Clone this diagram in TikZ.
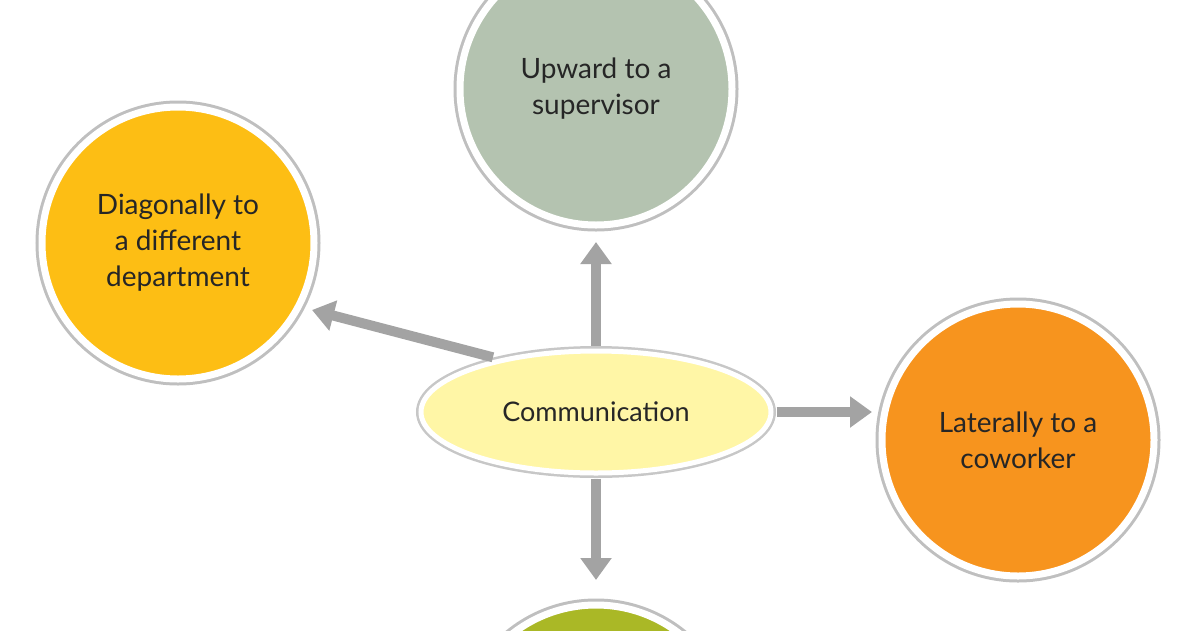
\documentclass[tikz,border=0pt]{standalone}
\usepackage{fontspec}
\setmainfont{Lato}
\usetikzlibrary{arrows.meta,shapes.geometric}
\definecolor{cgrey}{HTML}{B4C3B0}
\definecolor{cyel}{HTML}{FDBE14}
\definecolor{corg}{HTML}{F7941E}
\definecolor{cgrn}{HTML}{AAB826}
\definecolor{cell}{HTML}{FFF6A6}
\definecolor{carr}{HTML}{A3A3A3}
\tikzset{
 circ/.style={circle,minimum size=272pt,draw=white,line width=7pt,fill=#1,
   align=center,font=\fontsize{28}{36}\selectfont,text=black!85,
   preaction={draw=black!25,line width=13pt}},
 conn/.style={draw=carr,line width=10pt,-{Triangle[length=22pt,width=30pt]}}
}
\begin{document}
\begin{tikzpicture}[x=1pt,y=-1pt]
\useasboundingbox (0,0) rectangle (1200,630);
\node[circ=cgrey] (up) at (596,89) {Upward to a\\supervisor};
\node[circ=cyel] (dg) at (178,243) {Diagonally to\\a different\\department};
\node[circ=corg] (lt) at (1018,440) {Laterally to a\\coworker};
\node[circ=cgrn] (dn) at (596,741) {};
\node[ellipse,minimum width=350pt,minimum height=122pt,fill=cell,draw=white,line width=5pt,
  preaction={draw=black!22,line width=10pt},font=\fontsize{27}{34}\selectfont,text=black!85] (c) at (596,412) {Communication};
\draw[conn] (c.north) ++(0,-3) -- (596,242);
\draw[conn] (c.152) ++(-4,-2) -- (312,310);
\draw[conn] (c.east) ++(3,0) -- (872,412);
\draw[conn] (c.south) ++(0,3) -- (596,580);
\end{tikzpicture}
\end{document}
